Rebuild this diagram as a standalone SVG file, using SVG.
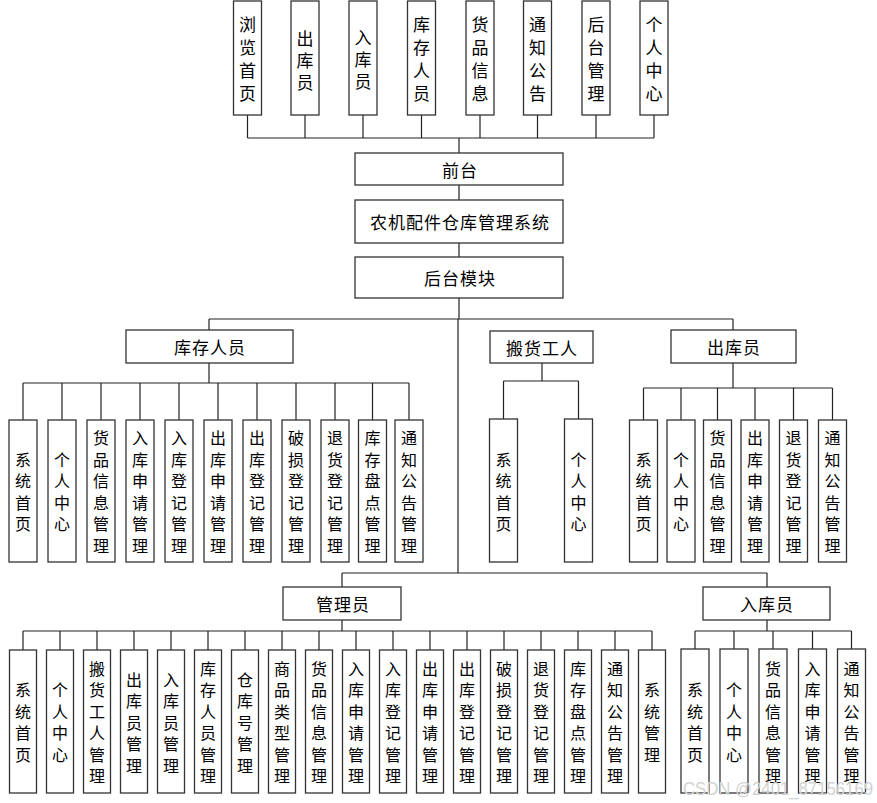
<svg xmlns="http://www.w3.org/2000/svg" width="877" height="803" viewBox="0 0 877 803">
<style>
.box{fill:#fff;stroke:#333;stroke-width:1.3}
.ln{stroke:#222;stroke-width:1.2;fill:none}
.t{font-family:"Noto Sans CJK SC","Noto Sans",sans-serif;font-size:16px;fill:#000;text-anchor:middle;dominant-baseline:central}
.h{font-size:17px;letter-spacing:1px}
.tp{font-size:17px}
.wm{font-family:"Liberation Sans",Arial,sans-serif;font-size:18px;fill:#d2d2d2}
</style>
<rect width="877" height="803" fill="#fff"/>
<g id="connectors">
<path class="ln" d="M247.5 115V138M305 115V138M363 115V138M421.5 115V138M480 115V138M537.5 115V138M596 115V138M654 115V138M247.5 138H654M459 138V153"/>
<path class="ln" d="M459 185V200M459 243V257M459 298V319M209 319H733M209 319V330M733 319V330M458 319V573"/>
<path class="ln" d="M209 363V383M23 383H409M23 383V420M62 383V420M101 383V420M140 383V420M179 383V420M218 383V420M257 383V420M296 383V420M335 383V420M372.5 383V420M409 383V420"/>
<path class="ln" d="M542 363V381M503.5 381H578.5M503.5 381V419M578.5 381V419"/>
<path class="ln" d="M733 363V388M643.5 388H832.5M643.5 388V420M681 388V420M717.5 388V420M755 388V420M793.5 388V420M832.5 388V420"/>
<path class="ln" d="M342 573H767M342 573V587M767 573V587"/>
<path class="ln" d="M342 620V631M23 631H652M23 631V650M60 631V650M97 631V650M134 631V650M171 631V650M208 631V650M245 631V650M282 631V650M319 631V650M356 631V650M393 631V650M430 631V650M467 631V650M504 631V650M541 631V650M578 631V650M615 631V650M652 631V650"/>
<path class="ln" d="M767 620V631M695 631H851.5M695 631V649M734 631V649M773 631V649M812.5 631V649M851.5 631V649"/>
</g>
<g id="top-1"><rect class="box" x="233.5" y="1" width="28" height="114"/><text class="t tp"><tspan x="247.5" y="23">浏</tspan><tspan x="247.5" y="46">览</tspan><tspan x="247.5" y="69">首</tspan><tspan x="247.5" y="92">页</tspan></text></g>
<g id="top-2"><rect class="box" x="291" y="1" width="28" height="114"/><text class="t tp"><tspan x="305" y="37">出</tspan><tspan x="305" y="59">库</tspan><tspan x="305" y="81">员</tspan></text></g>
<g id="top-3"><rect class="box" x="349" y="1" width="28" height="114"/><text class="t tp"><tspan x="363" y="36">入</tspan><tspan x="363" y="58">库</tspan><tspan x="363" y="80">员</tspan></text></g>
<g id="top-4"><rect class="box" x="407.5" y="1" width="28" height="114"/><text class="t tp"><tspan x="421.5" y="23">库</tspan><tspan x="421.5" y="46">存</tspan><tspan x="421.5" y="69">人</tspan><tspan x="421.5" y="92">员</tspan></text></g>
<g id="top-5"><rect class="box" x="466" y="1" width="28" height="114"/><text class="t tp"><tspan x="480" y="23">货</tspan><tspan x="480" y="46">品</tspan><tspan x="480" y="69">信</tspan><tspan x="480" y="92">息</tspan></text></g>
<g id="top-6"><rect class="box" x="523.5" y="1" width="28" height="114"/><text class="t tp"><tspan x="537.5" y="23">通</tspan><tspan x="537.5" y="46">知</tspan><tspan x="537.5" y="69">公</tspan><tspan x="537.5" y="92">告</tspan></text></g>
<g id="top-7"><rect class="box" x="582" y="1" width="28" height="114"/><text class="t tp"><tspan x="596" y="23">后</tspan><tspan x="596" y="46">台</tspan><tspan x="596" y="69">管</tspan><tspan x="596" y="92">理</tspan></text></g>
<g id="top-8"><rect class="box" x="640" y="1" width="28" height="114"/><text class="t tp"><tspan x="654" y="23">个</tspan><tspan x="654" y="46">人</tspan><tspan x="654" y="69">中</tspan><tspan x="654" y="92">心</tspan></text></g>
<g id="qiantai"><rect class="box" x="355" y="153" width="208" height="32"/><text class="t h" x="460" y="169">前台</text></g>
<g id="system"><rect class="box" x="355" y="200" width="208" height="43"/><text class="t h" x="460" y="221.5">农机配件仓库管理系统</text></g>
<g id="houtai"><rect class="box" x="355" y="257" width="208" height="41"/><text class="t h" x="460" y="277.5">后台模块</text></g>
<g id="kucun"><rect class="box" x="126" y="330" width="167" height="33"/><text class="t h" x="210" y="346.5">库存人员</text></g>
<g id="banhuo"><rect class="box" x="490" y="331" width="103" height="32"/><text class="t h" x="542" y="347">搬货工人</text></g>
<g id="chuku"><rect class="box" x="671" y="330" width="125" height="33"/><text class="t h" x="734" y="346.5">出库员</text></g>
<g id="guanli"><rect class="box" x="283" y="587" width="118" height="33"/><text class="t h" x="343" y="603.5">管理员</text></g>
<g id="ruku"><rect class="box" x="703" y="587" width="127" height="33"/><text class="t h" x="767" y="603.5">入库员</text></g>
<g id="kc-1"><rect class="box" x="9" y="420" width="28" height="142"/><text class="t"><tspan x="23" y="458.75">系</tspan><tspan x="23" y="480.25">统</tspan><tspan x="23" y="501.75">首</tspan><tspan x="23" y="523.25">页</tspan></text></g>
<g id="kc-2"><rect class="box" x="48" y="420" width="28" height="142"/><text class="t"><tspan x="62" y="458.75">个</tspan><tspan x="62" y="480.25">人</tspan><tspan x="62" y="501.75">中</tspan><tspan x="62" y="523.25">心</tspan></text></g>
<g id="kc-3"><rect class="box" x="87" y="420" width="28" height="142"/><text class="t"><tspan x="101" y="437.25">货</tspan><tspan x="101" y="458.75">品</tspan><tspan x="101" y="480.25">信</tspan><tspan x="101" y="501.75">息</tspan><tspan x="101" y="523.25">管</tspan><tspan x="101" y="544.75">理</tspan></text></g>
<g id="kc-4"><rect class="box" x="126" y="420" width="28" height="142"/><text class="t"><tspan x="140" y="437.25">入</tspan><tspan x="140" y="458.75">库</tspan><tspan x="140" y="480.25">申</tspan><tspan x="140" y="501.75">请</tspan><tspan x="140" y="523.25">管</tspan><tspan x="140" y="544.75">理</tspan></text></g>
<g id="kc-5"><rect class="box" x="165" y="420" width="28" height="142"/><text class="t"><tspan x="179" y="437.25">入</tspan><tspan x="179" y="458.75">库</tspan><tspan x="179" y="480.25">登</tspan><tspan x="179" y="501.75">记</tspan><tspan x="179" y="523.25">管</tspan><tspan x="179" y="544.75">理</tspan></text></g>
<g id="kc-6"><rect class="box" x="204" y="420" width="28" height="142"/><text class="t"><tspan x="218" y="437.25">出</tspan><tspan x="218" y="458.75">库</tspan><tspan x="218" y="480.25">申</tspan><tspan x="218" y="501.75">请</tspan><tspan x="218" y="523.25">管</tspan><tspan x="218" y="544.75">理</tspan></text></g>
<g id="kc-7"><rect class="box" x="243" y="420" width="28" height="142"/><text class="t"><tspan x="257" y="437.25">出</tspan><tspan x="257" y="458.75">库</tspan><tspan x="257" y="480.25">登</tspan><tspan x="257" y="501.75">记</tspan><tspan x="257" y="523.25">管</tspan><tspan x="257" y="544.75">理</tspan></text></g>
<g id="kc-8"><rect class="box" x="282" y="420" width="28" height="142"/><text class="t"><tspan x="296" y="437.25">破</tspan><tspan x="296" y="458.75">损</tspan><tspan x="296" y="480.25">登</tspan><tspan x="296" y="501.75">记</tspan><tspan x="296" y="523.25">管</tspan><tspan x="296" y="544.75">理</tspan></text></g>
<g id="kc-9"><rect class="box" x="321" y="420" width="28" height="142"/><text class="t"><tspan x="335" y="437.25">退</tspan><tspan x="335" y="458.75">货</tspan><tspan x="335" y="480.25">登</tspan><tspan x="335" y="501.75">记</tspan><tspan x="335" y="523.25">管</tspan><tspan x="335" y="544.75">理</tspan></text></g>
<g id="kc-10"><rect class="box" x="358.5" y="420" width="28" height="142"/><text class="t"><tspan x="372.5" y="437.25">库</tspan><tspan x="372.5" y="458.75">存</tspan><tspan x="372.5" y="480.25">盘</tspan><tspan x="372.5" y="501.75">点</tspan><tspan x="372.5" y="523.25">管</tspan><tspan x="372.5" y="544.75">理</tspan></text></g>
<g id="kc-11"><rect class="box" x="395" y="420" width="28" height="142"/><text class="t"><tspan x="409" y="437.25">通</tspan><tspan x="409" y="458.75">知</tspan><tspan x="409" y="480.25">公</tspan><tspan x="409" y="501.75">告</tspan><tspan x="409" y="523.25">管</tspan><tspan x="409" y="544.75">理</tspan></text></g>
<g id="bh-1"><rect class="box" x="489.5" y="419" width="28" height="143"/><text class="t"><tspan x="503.5" y="458.75">系</tspan><tspan x="503.5" y="480.25">统</tspan><tspan x="503.5" y="501.75">首</tspan><tspan x="503.5" y="523.25">页</tspan></text></g>
<g id="bh-2"><rect class="box" x="564.5" y="419" width="28" height="143"/><text class="t"><tspan x="578.5" y="458.75">个</tspan><tspan x="578.5" y="480.25">人</tspan><tspan x="578.5" y="501.75">中</tspan><tspan x="578.5" y="523.25">心</tspan></text></g>
<g id="ck-1"><rect class="box" x="629.5" y="420" width="28" height="142"/><text class="t"><tspan x="643.5" y="458.75">系</tspan><tspan x="643.5" y="480.25">统</tspan><tspan x="643.5" y="501.75">首</tspan><tspan x="643.5" y="523.25">页</tspan></text></g>
<g id="ck-2"><rect class="box" x="667" y="420" width="28" height="142"/><text class="t"><tspan x="681" y="458.75">个</tspan><tspan x="681" y="480.25">人</tspan><tspan x="681" y="501.75">中</tspan><tspan x="681" y="523.25">心</tspan></text></g>
<g id="ck-3"><rect class="box" x="703.5" y="420" width="28" height="142"/><text class="t"><tspan x="717.5" y="437.25">货</tspan><tspan x="717.5" y="458.75">品</tspan><tspan x="717.5" y="480.25">信</tspan><tspan x="717.5" y="501.75">息</tspan><tspan x="717.5" y="523.25">管</tspan><tspan x="717.5" y="544.75">理</tspan></text></g>
<g id="ck-4"><rect class="box" x="741" y="420" width="28" height="142"/><text class="t"><tspan x="755" y="437.25">出</tspan><tspan x="755" y="458.75">库</tspan><tspan x="755" y="480.25">申</tspan><tspan x="755" y="501.75">请</tspan><tspan x="755" y="523.25">管</tspan><tspan x="755" y="544.75">理</tspan></text></g>
<g id="ck-5"><rect class="box" x="779.5" y="420" width="28" height="142"/><text class="t"><tspan x="793.5" y="437.25">退</tspan><tspan x="793.5" y="458.75">货</tspan><tspan x="793.5" y="480.25">登</tspan><tspan x="793.5" y="501.75">记</tspan><tspan x="793.5" y="523.25">管</tspan><tspan x="793.5" y="544.75">理</tspan></text></g>
<g id="ck-6"><rect class="box" x="818.5" y="420" width="28" height="142"/><text class="t"><tspan x="832.5" y="437.25">通</tspan><tspan x="832.5" y="458.75">知</tspan><tspan x="832.5" y="480.25">公</tspan><tspan x="832.5" y="501.75">告</tspan><tspan x="832.5" y="523.25">管</tspan><tspan x="832.5" y="544.75">理</tspan></text></g>
<g id="gl-1"><rect class="box" x="9.5" y="650" width="27" height="143"/><text class="t"><tspan x="23" y="689.25">系</tspan><tspan x="23" y="710.75">统</tspan><tspan x="23" y="732.25">首</tspan><tspan x="23" y="753.75">页</tspan></text></g>
<g id="gl-2"><rect class="box" x="46.5" y="650" width="27" height="143"/><text class="t"><tspan x="60" y="689.25">个</tspan><tspan x="60" y="710.75">人</tspan><tspan x="60" y="732.25">中</tspan><tspan x="60" y="753.75">心</tspan></text></g>
<g id="gl-3"><rect class="box" x="83.5" y="650" width="27" height="143"/><text class="t"><tspan x="97" y="667.75">搬</tspan><tspan x="97" y="689.25">货</tspan><tspan x="97" y="710.75">工</tspan><tspan x="97" y="732.25">人</tspan><tspan x="97" y="753.75">管</tspan><tspan x="97" y="775.25">理</tspan></text></g>
<g id="gl-4"><rect class="box" x="120.5" y="650" width="27" height="143"/><text class="t"><tspan x="134" y="678.5">出</tspan><tspan x="134" y="700">库</tspan><tspan x="134" y="721.5">员</tspan><tspan x="134" y="743">管</tspan><tspan x="134" y="764.5">理</tspan></text></g>
<g id="gl-5"><rect class="box" x="157.5" y="650" width="27" height="143"/><text class="t"><tspan x="171" y="678.5">入</tspan><tspan x="171" y="700">库</tspan><tspan x="171" y="721.5">员</tspan><tspan x="171" y="743">管</tspan><tspan x="171" y="764.5">理</tspan></text></g>
<g id="gl-6"><rect class="box" x="194.5" y="650" width="27" height="143"/><text class="t"><tspan x="208" y="667.75">库</tspan><tspan x="208" y="689.25">存</tspan><tspan x="208" y="710.75">人</tspan><tspan x="208" y="732.25">员</tspan><tspan x="208" y="753.75">管</tspan><tspan x="208" y="775.25">理</tspan></text></g>
<g id="gl-7"><rect class="box" x="231.5" y="650" width="27" height="143"/><text class="t"><tspan x="245" y="678.5">仓</tspan><tspan x="245" y="700">库</tspan><tspan x="245" y="721.5">号</tspan><tspan x="245" y="743">管</tspan><tspan x="245" y="764.5">理</tspan></text></g>
<g id="gl-8"><rect class="box" x="268.5" y="650" width="27" height="143"/><text class="t"><tspan x="282" y="667.75">商</tspan><tspan x="282" y="689.25">品</tspan><tspan x="282" y="710.75">类</tspan><tspan x="282" y="732.25">型</tspan><tspan x="282" y="753.75">管</tspan><tspan x="282" y="775.25">理</tspan></text></g>
<g id="gl-9"><rect class="box" x="305.5" y="650" width="27" height="143"/><text class="t"><tspan x="319" y="667.75">货</tspan><tspan x="319" y="689.25">品</tspan><tspan x="319" y="710.75">信</tspan><tspan x="319" y="732.25">息</tspan><tspan x="319" y="753.75">管</tspan><tspan x="319" y="775.25">理</tspan></text></g>
<g id="gl-10"><rect class="box" x="342.5" y="650" width="27" height="143"/><text class="t"><tspan x="356" y="667.75">入</tspan><tspan x="356" y="689.25">库</tspan><tspan x="356" y="710.75">申</tspan><tspan x="356" y="732.25">请</tspan><tspan x="356" y="753.75">管</tspan><tspan x="356" y="775.25">理</tspan></text></g>
<g id="gl-11"><rect class="box" x="379.5" y="650" width="27" height="143"/><text class="t"><tspan x="393" y="667.75">入</tspan><tspan x="393" y="689.25">库</tspan><tspan x="393" y="710.75">登</tspan><tspan x="393" y="732.25">记</tspan><tspan x="393" y="753.75">管</tspan><tspan x="393" y="775.25">理</tspan></text></g>
<g id="gl-12"><rect class="box" x="416.5" y="650" width="27" height="143"/><text class="t"><tspan x="430" y="667.75">出</tspan><tspan x="430" y="689.25">库</tspan><tspan x="430" y="710.75">申</tspan><tspan x="430" y="732.25">请</tspan><tspan x="430" y="753.75">管</tspan><tspan x="430" y="775.25">理</tspan></text></g>
<g id="gl-13"><rect class="box" x="453.5" y="650" width="27" height="143"/><text class="t"><tspan x="467" y="667.75">出</tspan><tspan x="467" y="689.25">库</tspan><tspan x="467" y="710.75">登</tspan><tspan x="467" y="732.25">记</tspan><tspan x="467" y="753.75">管</tspan><tspan x="467" y="775.25">理</tspan></text></g>
<g id="gl-14"><rect class="box" x="490.5" y="650" width="27" height="143"/><text class="t"><tspan x="504" y="667.75">破</tspan><tspan x="504" y="689.25">损</tspan><tspan x="504" y="710.75">登</tspan><tspan x="504" y="732.25">记</tspan><tspan x="504" y="753.75">管</tspan><tspan x="504" y="775.25">理</tspan></text></g>
<g id="gl-15"><rect class="box" x="527.5" y="650" width="27" height="143"/><text class="t"><tspan x="541" y="667.75">退</tspan><tspan x="541" y="689.25">货</tspan><tspan x="541" y="710.75">登</tspan><tspan x="541" y="732.25">记</tspan><tspan x="541" y="753.75">管</tspan><tspan x="541" y="775.25">理</tspan></text></g>
<g id="gl-16"><rect class="box" x="564.5" y="650" width="27" height="143"/><text class="t"><tspan x="578" y="667.75">库</tspan><tspan x="578" y="689.25">存</tspan><tspan x="578" y="710.75">盘</tspan><tspan x="578" y="732.25">点</tspan><tspan x="578" y="753.75">管</tspan><tspan x="578" y="775.25">理</tspan></text></g>
<g id="gl-17"><rect class="box" x="601.5" y="650" width="27" height="143"/><text class="t"><tspan x="615" y="667.75">通</tspan><tspan x="615" y="689.25">知</tspan><tspan x="615" y="710.75">公</tspan><tspan x="615" y="732.25">告</tspan><tspan x="615" y="753.75">管</tspan><tspan x="615" y="775.25">理</tspan></text></g>
<g id="gl-18"><rect class="box" x="638.5" y="650" width="27" height="143"/><text class="t"><tspan x="652" y="689.25">系</tspan><tspan x="652" y="710.75">统</tspan><tspan x="652" y="732.25">管</tspan><tspan x="652" y="753.75">理</tspan></text></g>
<g id="rk-1"><rect class="box" x="681" y="649" width="28" height="144"/><text class="t"><tspan x="695" y="689.25">系</tspan><tspan x="695" y="710.75">统</tspan><tspan x="695" y="732.25">首</tspan><tspan x="695" y="753.75">页</tspan></text></g>
<g id="rk-2"><rect class="box" x="720" y="649" width="28" height="144"/><text class="t"><tspan x="734" y="689.25">个</tspan><tspan x="734" y="710.75">人</tspan><tspan x="734" y="732.25">中</tspan><tspan x="734" y="753.75">心</tspan></text></g>
<g id="rk-3"><rect class="box" x="759" y="649" width="28" height="144"/><text class="t"><tspan x="773" y="667.75">货</tspan><tspan x="773" y="689.25">品</tspan><tspan x="773" y="710.75">信</tspan><tspan x="773" y="732.25">息</tspan><tspan x="773" y="753.75">管</tspan><tspan x="773" y="775.25">理</tspan></text></g>
<g id="rk-4"><rect class="box" x="798.5" y="649" width="28" height="144"/><text class="t"><tspan x="812.5" y="667.75">入</tspan><tspan x="812.5" y="689.25">库</tspan><tspan x="812.5" y="710.75">申</tspan><tspan x="812.5" y="732.25">请</tspan><tspan x="812.5" y="753.75">管</tspan><tspan x="812.5" y="775.25">理</tspan></text></g>
<g id="rk-5"><rect class="box" x="837.5" y="649" width="28" height="144"/><text class="t"><tspan x="851.5" y="667.75">通</tspan><tspan x="851.5" y="689.25">知</tspan><tspan x="851.5" y="710.75">公</tspan><tspan x="851.5" y="732.25">告</tspan><tspan x="851.5" y="753.75">管</tspan><tspan x="851.5" y="775.25">理</tspan></text></g>
<text class="wm" x="683" y="795" textLength="190" lengthAdjust="spacingAndGlyphs">CSDN @2401_87156169</text>
</svg>
